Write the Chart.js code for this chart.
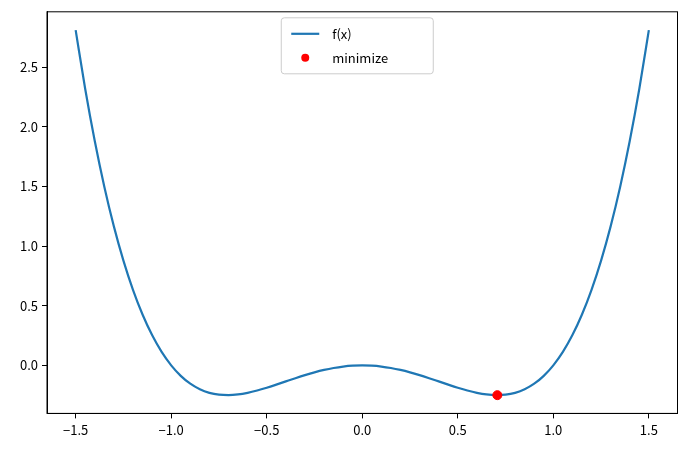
<!DOCTYPE html>
<html><head><meta charset="utf-8">
<script src="https://cdn.jsdelivr.net/npm/chart.js@4"></script>
<style>body{margin:0;background:#fff}#c{display:block}</style>
</head><body>
<div style="width:683px;height:451px"><canvas id="c"></canvas></div>
<script>
const xs = [-1.5,-1.45,-1.4,-1.35,-1.3,-1.25,-1.2,-1.15,-1.1,-1.05,-1.0,-0.95,-0.9,-0.85,-0.8,-0.75,-0.7,-0.65,-0.6,-0.55,-0.5,-0.45,-0.4,-0.35,-0.3,-0.25,-0.2,-0.15,-0.1,-0.05,0,
  0.05,0.1,0.15,0.2,0.25,0.3,0.35,0.4,0.45,0.5,0.55,0.6,0.65,0.7,0.75,0.8,0.85,0.9,0.95,1.0,1.05,1.1,1.15,1.2,1.25,1.3,1.35,1.4,1.45,1.5];
const half = [0,-0.0025,-0.0099,-0.022,-0.0384,-0.0586,-0.0819,-0.1075,-0.1344,-0.1615,-0.1875,-0.211,-0.2304,-0.244,-0.2499,-0.2461,-0.2304,-0.2005,-0.1539,-0.088,0,
  0.113,0.2541,0.4265,0.6336,0.8789,1.1661,1.499,1.8816,2.318,2.8125];
const fx = half.slice(1).reverse().concat(half);
const minPoint = [{x: 0.707, y: -0.25}];
const xTicks = [-1.5,-1.0,-0.5,0.0,0.5,1.0,1.5];
const yTicks = [0.0,0.5,1.0,1.5,2.0,2.5];
const labels = ["f(x)", "minimize"];

const fmt = v => (v < 0 ? "\u2212" : "") + Math.abs(v).toFixed(1);
const FONT = "'Noto Sans CJK JP', 'DejaVu Sans', sans-serif";

const frame = {
  id: "frame",
  afterDraw(ch) {
    const {ctx, chartArea: a} = ch;
    ctx.save();
    ctx.strokeStyle = "#000"; ctx.lineWidth = 1;
    ctx.strokeRect(a.left, a.top, a.right - a.left, a.bottom - a.top);
    // legend
    const w = 152, h = 56, x0 = (a.left + a.right) / 2 - w / 2 - 5, y0 = a.top + 6;
    ctx.fillStyle = "rgba(255,255,255,0.85)";
    ctx.strokeStyle = "#ccc";
    ctx.beginPath(); ctx.roundRect(x0, y0, w, h, 3); ctx.fill(); ctx.stroke();
    ctx.strokeStyle = "#1f77b4"; ctx.lineWidth = 2.2;
    ctx.beginPath(); ctx.moveTo(x0 + 10, y0 + 16); ctx.lineTo(x0 + 38, y0 + 16); ctx.stroke();
    ctx.fillStyle = "red";
    ctx.beginPath(); ctx.arc(x0 + 24, y0 + 40, 4, 0, Math.PI * 2); ctx.fill();
    ctx.fillStyle = "#000"; ctx.font = "13px " + FONT; ctx.textBaseline = "middle";
    ctx.fillText(labels[0], x0 + 51, y0 + 16);
    ctx.fillText(labels[1], x0 + 51, y0 + 40);
    ctx.restore();
  }
};

new Chart(document.getElementById("c"), {
  data: {
    datasets: [
      {type: "line", label: labels[0], data: xs.map((x, i) => ({x, y: fx[i]})),
       borderColor: "#1f77b4", borderWidth: 2.2, pointRadius: 0, cubicInterpolationMode: "monotone", order: 2},
      {type: "scatter", label: labels[1], data: minPoint, backgroundColor: "red", borderColor: "red",
       pointRadius: 4.5, order: 1}
    ]
  },
  options: {
    responsive: true, maintainAspectRatio: false, animation: false,
    layout: {padding: {left: 0, right: 5, top: 3, bottom: 9}},
    plugins: {legend: {display: false}, tooltip: {enabled: false}},
    scales: {
      x: {type: "linear", min: -1.65, max: 1.65,
          afterBuildTicks: s => { s.ticks = xTicks.map(v => ({value: v})); },
          ticks: {callback: fmt, color: "#000", font: {family: FONT, size: 13}, padding: 4, maxRotation: 0},
          grid: {drawOnChartArea: false, tickLength: 5, color: "#000"}, border: {color: "#000"}},
      y: {type: "linear", min: -0.403, max: 2.966,
          afterBuildTicks: s => { s.ticks = yTicks.map(v => ({value: v})); },
          ticks: {callback: fmt, color: "#000", font: {family: FONT, size: 13}, padding: 4},
          grid: {drawOnChartArea: false, tickLength: 5, color: "#000"}, border: {color: "#000"},
          afterFit: s => { s.width = 47; }}
    }
  },
  plugins: [frame]
});
</script>
</body></html>
